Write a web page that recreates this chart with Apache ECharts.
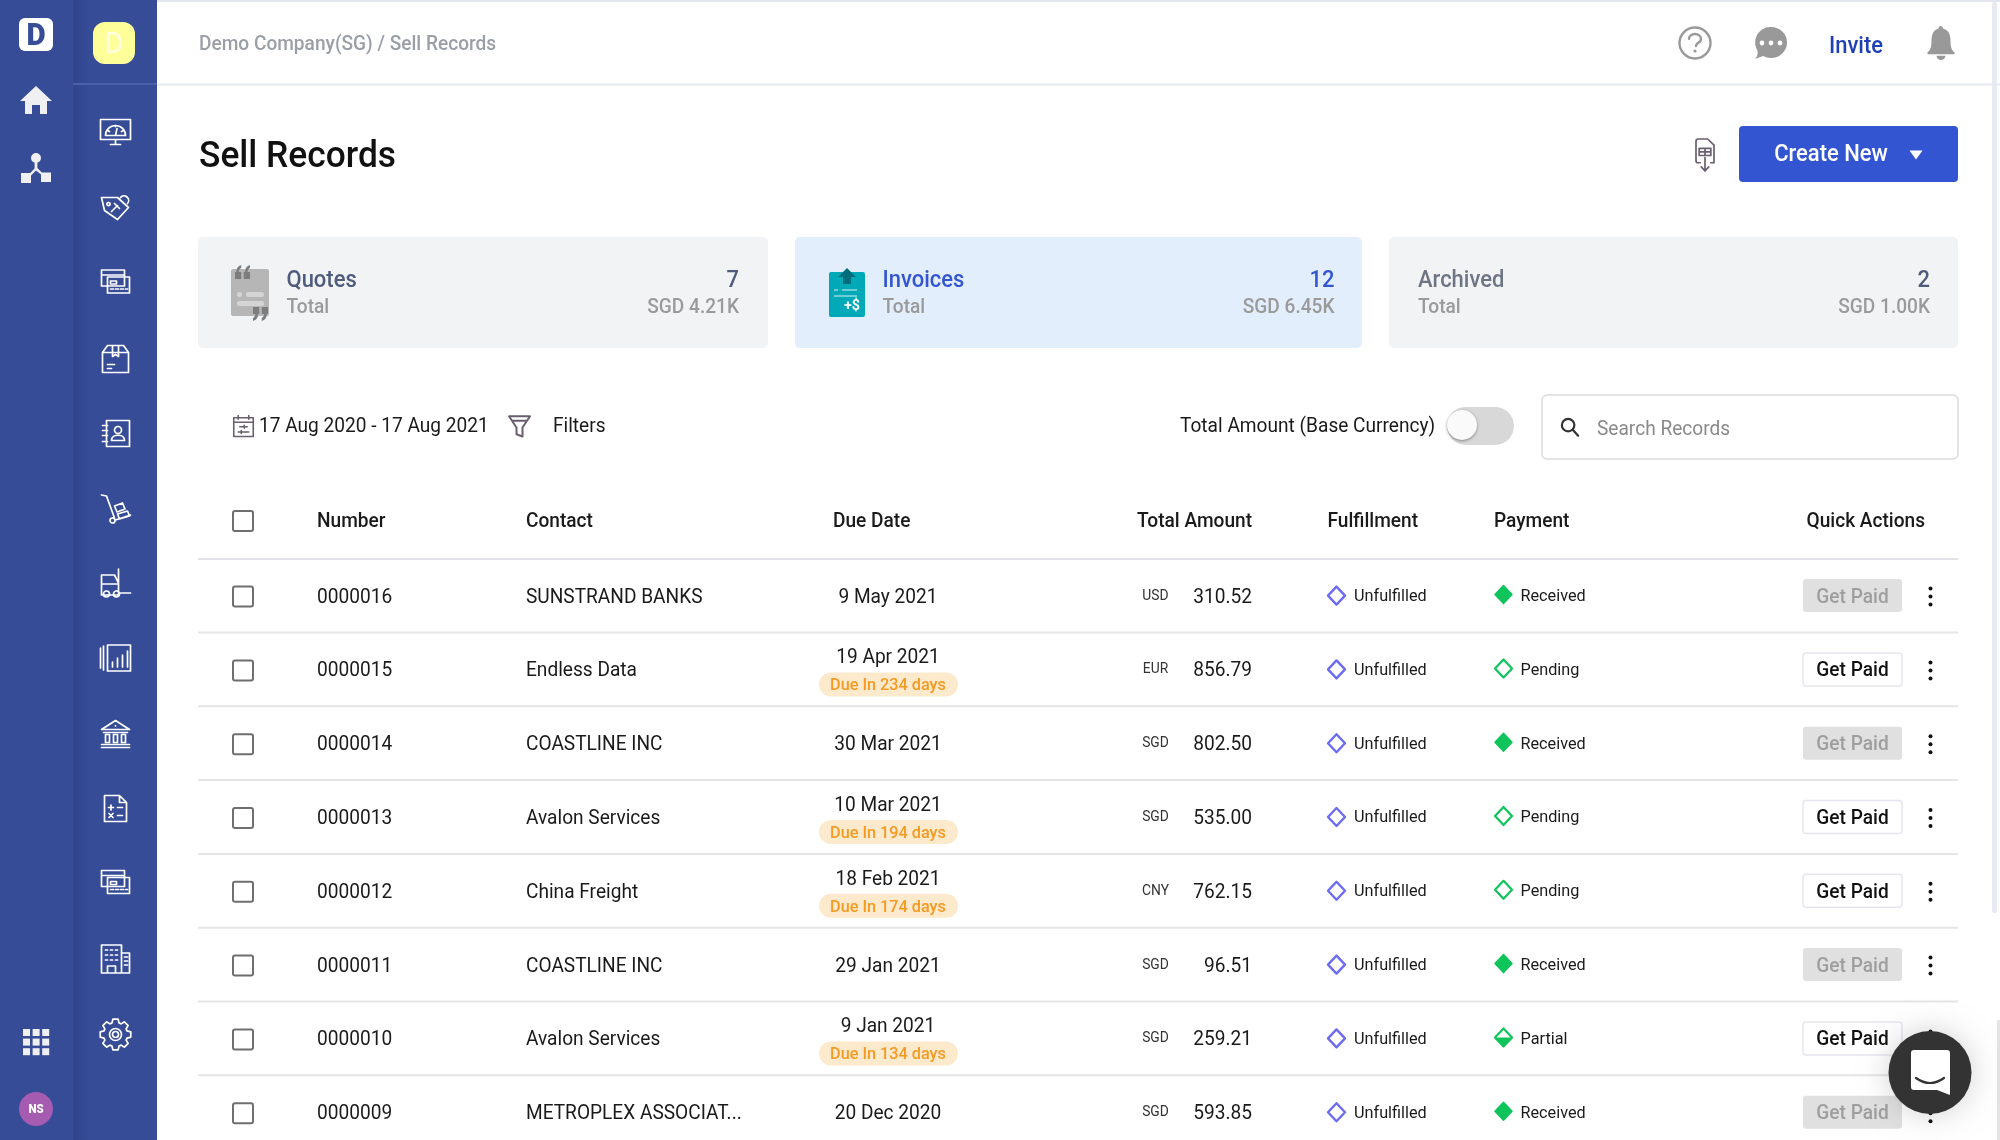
<!DOCTYPE html>
<html>
<head>
<meta charset="utf-8">
<title>Sell Records</title>
<style>
  html, body { margin: 0; padding: 0; background: #fff; }
  #main { width: 2000px; height: 1140px; }
</style>
<script src="https://cdn.jsdelivr.net/npm/echarts@6/dist/echarts.min.js"></script>
</head>
<body>
<div id="main"></div>
<script>
// table data
const numbers = ["0000016", "0000015", "0000014", "0000013", "0000012", "0000011", "0000010", "0000009"];
const contacts = ["SUNSTRAND BANKS", "Endless Data", "COASTLINE INC", "Avalon Services", "China Freight", "COASTLINE INC", "Avalon Services", "METROPLEX ASSOCIAT..."];
const dueDates = ["9 May 2021", "19 Apr 2021", "30 Mar 2021", "10 Mar 2021", "18 Feb 2021", "29 Jan 2021", "9 Jan 2021", "20 Dec 2020"];
const dueBadges = ["", "Due In 234 days", "", "Due In 194 days", "Due In 174 days", "", "Due In 134 days", ""];
const currencies = ["USD", "EUR", "SGD", "SGD", "CNY", "SGD", "SGD", "SGD"];
const amounts = [310.52, 856.79, 802.5, 535.0, 762.15, 96.51, 259.21, 593.85];
const fulfillment = ["Unfulfilled", "Unfulfilled", "Unfulfilled", "Unfulfilled", "Unfulfilled", "Unfulfilled", "Unfulfilled", "Unfulfilled"];
const payments = ["Received", "Pending", "Received", "Pending", "Pending", "Received", "Partial", "Received"];

// summary cards
const cardTitles = ["Quotes", "Invoices", "Archived"];
const cardCounts = [7, 12, 2];
const cardTotals = ["SGD 4.21K", "SGD 6.45K", "SGD 1.00K"];

// table header
const headerLabels = ["Number", "Contact", "Due Date", "Total Amount", "Fulfillment", "Payment", "Quick Actions"];

const FONT = "Roboto";
const BLUE = "#3455d1";
const RAIL = "#364c97";
const GREEN = "#10c45c";
const VIOLET = "#6c6cf2";
const INK = "#1a1a1a";
// the screenshot's text runs a little narrower than plain Roboto
const TEXT_SCALE = 0.955;

const graphics = [];
const iconPaths = [];
const overlay = [];

const add = (el) => {
  graphics.push(el);
};
const rect = (x, y, w, h, fill, r, extra) => {
  add(Object.assign({
    type: "rect",
    shape: { x: x, y: y, width: w, height: h, r: r || 0 },
    style: { fill: fill },
  }, extra || {}));
};
const textEl = (text, x, y, size, weight, fill, align) => ({
  type: "text",
  x: x,
  y: y + size * 0.1,
  scaleX: TEXT_SCALE,
  style: {
    text: text, x: 0, y: 0,
    font: weight + " " + size + "px " + FONT,
    fill: fill,
    align: align || "left", verticalAlign: "middle",
    textAlign: align || "left", textVerticalAlign: "middle",
  },
});
const label = (text, x, y, size, weight, fill, align) => {
  add(Object.assign(textEl(text, x, y, size, weight, fill, align), { z: 1 }));
};
// the graphic component has no path type, so paths go through custom series
const path = (d, x, y, w, h, style, target) => {
  (target || iconPaths).push({
    type: "path",
    shape: { pathData: d, x: x, y: y, width: w, height: h, layout: "cover" },
    style: style,
  });
};
// icons are drawn in a 32x32 box, the two moves keep that box when scaled
const lineIcon = (d, cx, cy, size, color, lineWidth) => {
  path("M0 0M32 32" + d, cx - size / 2, cy - size / 2, size, size, {
    fill: "none", stroke: color, lineWidth: lineWidth || 1.8, lineJoin: "round", lineCap: "round",
  });
};
const gearPath = () => {
  let d = "";
  for (let i = 0; i < 8; i++) {
    const a = (i * Math.PI) / 4;
    const pt = (r, off) => {
      const x = 16 + r * Math.cos(a + off);
      const y = 16 + r * Math.sin(a + off);
      return x.toFixed(2) + " " + y.toFixed(2);
    };
    d += (i === 0 ? "M" : "L") + pt(12, -0.3) + "L" + pt(15.5, -0.17) + "L" + pt(15.5, 0.17) + "L" + pt(12, 0.3);
  }
  return d + "zM16 10a6 6 0 1 0 .01 0zM16 13a3 3 0 1 0 .01 0z";
};

// sidebar
rect(0, 0, 157, 1140, RAIL);
add({
  type: "rect",
  shape: { x: 73, y: 0, width: 16, height: 1140 },
  style: {
    fill: new echarts.graphic.LinearGradient(0, 0, 1, 0, [
      { offset: 0, color: "#2f4489" },
      { offset: 1, color: RAIL },
    ]),
  },
});
rect(73, 83, 84, 2, "#4a60a8");
rect(19, 18, 34, 33, "#ffffff", 6);
label("D", 36, 34, 31, 900, RAIL, "center");
rect(93, 22, 42, 42, "#ffff99", 12);
label("D", 114, 42, 30, 400, "#ffffe6", "center");

path("M16 0L32 15h-5v13h-7v-9h-8v9H5V15H0z", 20, 86, 32, 28, { fill: "#f0f0f2" });
path("M15 0a5 5 0 1 1 -.01 0zM13.6 9h2.8v6l4.4 4.5h9.2v9.5h-10v-7.6L15 17.6l-5 4.8V30H0v-10h9.2l4.4-4.5z", 21, 153, 30, 30, { fill: "#f0f0f2" });
for (let r = 0; r < 3; r++) {
  for (let c = 0; c < 3; c++) {
    rect(23 + c * 9.6, 1029 + r * 9.6, 7, 7, "#f0f0f2");
  }
}
add({ type: "circle", shape: { cx: 36, cy: 1109, r: 17 }, style: { fill: "#a45bb0" } });
label("NS", 36, 1108.5, 12, 900, "#ffffff", "center");

const navIcons = [
  "M1 4h30v20H1zM11 29h10M16 24v5M6 20a10 10 0 0 1 20 0zM16 20l1.5-7M8 15l2 1M24 15l-2 1M16 10v1",
  "M2 7h16l11 10-11 12L5 20zM9 12a1.6 1.6 0 1 0 .01 0M21 7a4.5 4.5 0 1 1 7 6M12 21l6-6M15 13l5 5",
  "M2 4h23v16H2zM2 9h23M8 11h22v16H8zM11 15h6v3h-6zM11 23h3M16 23h3M21 23h3M26 23h2",
  "M3 10L8 3h16l5 7v20H3zM3 10h26M13 3v11l3-2 3 2V3M8 22h7M8 26h4",
  "M7 3h23v26H7zM3 8h5M3 13h5M3 18h5M3 24h5M18.5 9a3.5 3.5 0 1 0 .01 0M12 23c0-7 13-7 13 0z",
  "M2 2l5 1 8 22M13 25a2.5 2.5 0 1 0 .01 0M16 27l15-5M15 13l8-3 2.5 6-8 3zM18 21l10-3 2 5-10 3z",
  "M2 8h13l4 8v12H2zM2 17h17M19 2v26M19 26h12M7 24a3 3 0 1 0 .01 0M17 24a3 3 0 1 0 .01 0",
  "M8 3h23v26H8zM1 6v20M4 4v24M13 25v-5M18 25v-9M23 25v-12M28 25v-16",
  "M16 3L2 12h28zM4 15h24M6 17h4v8H6zM14 17h4v8h-4zM22 17h4v8h-4zM2 27h28M2 30h28M16 8v.5",
  "M5 3h15l7 7v19H5zM20 3v7h7M9 15h5M11.5 12.5v5M18 15h5M9.5 21l4 4M13.5 21l-4 4M18 23h5",
  "M2 4h23v16H2zM2 9h23M8 11h22v16H8zM11 15h6v3h-6zM11 23h3M16 23h3M21 23h3M26 23h2",
  "M2 2h20v28H2zM22 10h8v20h-8zM6 7h2M11 7h2M16 7h2M6 12h2M11 12h2M16 12h2M6 17h2M11 17h2M16 17h2M8 30v-7h8v7M25 14h3M25 18h3M25 22h3",
  gearPath(),
];
const navY = [131.5, 206.5, 282, 358.5, 433.5, 509, 583, 658, 733.5, 808.5, 882.5, 959, 1034.5];
navIcons.forEach((d, i) => lineIcon(d, 115.5, navY[i], 32, "#ffffff", 1.7));

// top bar
rect(157, 0, 1843, 2, "#e4e6ee");
rect(157, 83.5, 1843, 2, "#e8eaf2");
rect(1992, 2, 5, 911, "#e8eaf1", 2, { z: 1 });
rect(1997, 1020, 3, 120, "#e4e4e4", 0, { z: 1 });

label("Demo Company(SG) / Sell Records", 199, 43, 20, 500, "#9a9ea6");
add({ type: "circle", z: 1, shape: { cx: 1695, cy: 43, r: 15.5 }, style: { fill: "none", stroke: "#999999", lineWidth: 2.4 } });
path("M0 6a6 6 0 1 1 9.5 4.8C7.5 12.2 7 13 7 15", 1689, 34, 12, 12, { fill: "none", stroke: "#999999", lineWidth: 2.4, lineCap: "round" });
add({ type: "circle", z: 1, shape: { cx: 1695, cy: 51, r: 1.6 }, style: { fill: "#999999" } });
path("M16 0a16 15 0 1 1 -8 28L0 31c2-2 3-4 2.5-8A15 15 0 0 1 16 0z", 1755, 27, 32, 32, { fill: "#999999" });
[1762, 1771, 1780].forEach((x) => {
  add({ type: "circle", z: 5, shape: { cx: x, cy: 43, r: 2.4 }, style: { fill: "#ffffff" } });
});
label("Invite", 1856, 44.5, 23, 500, "#1e3fb5", "center");
path("M13 0a2.5 2.5 0 0 1 2.5 2.5C21 4 23 8 23 14c0 6 1 9 4 11v2H0v-2c3-2 4-5 4-11 0-6 2-10 7-11.5A2.5 2.5 0 0 1 13 0zM9 28.5h9a4.5 4 0 0 1-9 0z", 1927.5, 26, 27, 34, { fill: "#999999" });

// title row
label("Sell Records", 199, 154, 37, 500, "#111111");
path("M3 1h9l6 6v17h-3M5 24H3a2 2 0 0 1-2-2V3a2 2 0 0 1 2-2M4 10h11v7H4zM4 13.5h11M9.5 10v7M9.5 19v13M6 28l3.5 4 3.5-4", 1696, 139, 18, 32, {
  fill: "none", stroke: "#6a5f6e", lineWidth: 1.7, lineJoin: "round", lineCap: "round",
});
rect(1739, 126, 219, 56, BLUE, 4);
label("Create New", 1831, 153, 23, 500, "#ffffff", "center");
path("M0 0h13L6.5 9z", 1909.5, 150.5, 13, 9, { fill: "#ffffff" });

// cards
const cardX = [198, 795, 1389];
const cardW = [570, 567, 569];
const cardFill = ["#f2f3f5", "#e3eefd", "#f2f3f5"];
const cardTextX = [286.5, 882.5, 1418];
const cardRight = [739, 1334.5, 1930];
const cardInk = ["#4f5b7c", BLUE, "#6d7484"];
cardTitles.forEach((title, i) => {
  rect(cardX[i], 237, cardW[i], 111, cardFill[i], 5);
  label(title, cardTextX[i], 278.5, 23, 500, cardInk[i]);
  label("Total", cardTextX[i], 306, 20, 500, "#9a9a9a");
  label(String(cardCounts[i]), cardRight[i], 278.5, 23, 500, i === 1 ? BLUE : "#4f5b7c", "right");
  label(cardTotals[i], cardRight[i], 306, 20, 500, "#9a9a9a", "right");
});

// quotes icon
rect(231, 269, 38, 47, "#b6b6b6", 2, { z: 1 });
rect(237, 292, 5, 5, "#d4d4d4", 2, { z: 1 });
rect(246, 292, 18, 5, "#d4d4d4", 2, { z: 1 });
rect(237, 301, 27, 5, "#d4d4d4", 2, { z: 1 });
path("M1 5Q1 1 5 0v2Q3 3 3 5h2v5H0V5zM8 5Q8 1 12 0v2Q10 3 10 5h2v5H7V5z", 235, 265, 15, 14, { fill: "#7d7d7d" });
path("M4 5Q4 9 0 10V8Q2 7 2 5H0V0H5V5zM11 5Q11 9 7 10V8Q9 7 9 5H7V0H12V5z", 253, 307, 15, 14, { fill: "#7d7d7d" });

// invoices icon
rect(829, 272, 36, 45, "#00a9b8", 2, { z: 1 });
path("M9 0L18 9H13V16H5V9H0z", 838, 268, 18, 16, { fill: "#006d7c" });
rect(834, 289, 4, 2, "#6fcdd6", 0, { z: 1 });
rect(842, 289, 15, 2, "#6fcdd6", 0, { z: 1 });
rect(834, 295, 23, 2, "#6fcdd6", 0, { z: 1 });
label("+$", 852, 305, 15, 700, "#ffffff", "center");

// filter row
lineIcon("M3 5h26v25H3zM3 11h26M9 2v5M23 2v5M11 17h10M17 15v4M9 24h14M13 22v4", 243.5, 426, 24, "#6a5f6e", 1.6);
label("17 Aug 2020 - 17 Aug 2021", 259, 425, 20, 400, INK);
lineIcon("M2 3h28l-10 15v12l-8-3v-9zM6 9h20", 519.5, 426, 24, "#6a5f6e", 2);
label("Filters", 553, 425, 20, 400, INK);
label("Total Amount (Base Currency)", 1180, 425, 20, 400, INK);
rect(1447, 407, 67, 38, "#d8d8d8", 19);
add({
  type: "circle",
  z: 1,
  shape: { cx: 1462, cy: 425, r: 15 },
  style: { fill: "#fafafa", shadowBlur: 3, shadowColor: "rgba(0,0,0,0.4)", shadowOffsetY: 1 },
});
add({
  type: "rect",
  shape: { x: 1542, y: 395, width: 416, height: 64, r: 5 },
  style: { fill: "#ffffff", stroke: "#dcdcdf", lineWidth: 1.5 },
});
lineIcon("M13 3a10 10 0 1 0 .01 0zM20 20l9 10", 1570, 427, 20, "#333333", 2.2);
label("Search Records", 1597, 428, 20, 400, "#8a8a8a");

// table header
const headerX = [317, 526, 833, 1252, 1327.5, 1494, 1925];
const headerAlign = ["left", "left", "left", "right", "left", "left", "right"];
headerLabels.forEach((text, i) => {
  label(text, headerX[i], 520, 20, 500, INK, headerAlign[i]);
});
add({
  type: "rect",
  z: 1,
  shape: { x: 233, y: 511, width: 20, height: 20, r: 2 },
  style: { fill: "#ffffff", stroke: "#6f6f6f", lineWidth: 2 },
});
rect(198, 558, 1760, 2, "#e2e3e8");

// chat bubble sits over the last rows
overlay.push({
  type: "circle",
  shape: { cx: 1930, cy: 1072.5, r: 41.5 },
  style: { fill: "#333333", shadowBlur: 30, shadowColor: "rgba(0,0,0,0.18)" },
});
path("M3 0H36a3 3 0 0 1 3 3V45L26 40H3a3 3 0 0 1-3-3V3a3 3 0 0 1 3-3z", 1911, 1050, 39, 45, { fill: "#ffffff" }, overlay);
path("M0 0Q14 10 28 0", 1916, 1078, 28, 5, { fill: "none", stroke: "#333333", lineWidth: 2.2, lineCap: "round" }, overlay);

// one table row per category, positioned by the axes
const renderRow = (params, api) => {
  const i = api.value(0);
  const at = (x) => api.coord([x, i]);
  const cy = at(0)[1];
  const band = api.size([0, 1])[1];
  const kids = [];
  const text = (str, x, y, size, weight, fill, align) => {
    kids.push(textEl(str, at(x)[0], y, size, weight, fill, align));
  };
  const diamond = (cx, y, style) => {
    kids.push({
      type: "polygon",
      shape: { points: [[at(cx)[0], y - 9], [at(cx)[0] + 8.5, y], [at(cx)[0], y + 9], [at(cx)[0] - 8.5, y]] },
      style: Object.assign({ lineJoin: "round" }, style),
    });
  };

  kids.push({
    type: "rect",
    shape: { x: at(233)[0], y: cy - 9, width: 20, height: 20, r: 2 },
    style: { fill: "#ffffff", stroke: "#6f6f6f", lineWidth: 2 },
  });
  text(numbers[i], 317, cy, 20, 400, INK);
  text(contacts[i], 526, cy, 20, 400, INK);

  if (dueBadges[i]) {
    text(dueDates[i], 888, cy - 13, 20, 400, INK, "center");
    kids.push({
      type: "rect",
      shape: { x: at(819)[0], y: cy + 3, width: 139, height: 24, r: 12 },
      style: { fill: "#fde9cc" },
    });
    text(dueBadges[i], 888, cy + 15, 17, 500, "#f59a23", "center");
  } else {
    text(dueDates[i], 888, cy, 20, 400, INK, "center");
  }

  text(currencies[i], 1155.5, cy - 1, 14.5, 400, "#333333", "center");
  text(amounts[i].toFixed(2), 1252, cy, 20, 400, INK, "right");

  diamond(1336.5, cy, { fill: "none", stroke: VIOLET, lineWidth: 2.4 });
  text(fulfillment[i], 1354, cy - 0.5, 17, 400, INK);

  const pay = payments[i];
  if (pay === "Received") {
    diamond(1503.5, cy - 1, { fill: GREEN, stroke: GREEN, lineWidth: 1.5 });
  } else {
    diamond(1503.5, cy - 1, { fill: "none", stroke: GREEN, lineWidth: 2.2 });
    if (pay === "Partial") {
      const px = at(1503.5)[0];
      kids.push({
        type: "polygon",
        shape: { points: [[px - 8, cy - 1], [px + 8, cy - 1], [px, cy + 8]] },
        style: { fill: GREEN },
      });
    }
  }
  text(pay, 1520.5, cy - 0.5, 17, 400, INK);

  const paid = pay === "Received";
  kids.push({
    type: "rect",
    shape: { x: at(1803)[0], y: cy - 16.5, width: 99, height: 33, r: 3 },
    style: paid ? { fill: "#e0e0e0" } : { fill: "#ffffff", stroke: "#e6e6f0", lineWidth: 1.5 },
  });
  text("Get Paid", 1852.5, cy, 20, 500, paid ? "#9e9e9e" : "#111111", "center");
  [-7, 1, 9].forEach((off) => {
    kids.push({
      type: "circle",
      shape: { cx: at(1930.5)[0], cy: cy + off, r: 2 },
      style: { fill: "#111111" },
    });
  });

  kids.push({
    type: "rect",
    shape: { x: at(198)[0], y: cy + band / 2 - 1, width: 1760, height: 2 },
    style: { fill: "#e5e5e8" },
  });
  return { type: "group", children: kids };
};

const chart = echarts.init(document.getElementById("main"), null, { renderer: "canvas" });
chart.setOption({
  animation: false,
  backgroundColor: "#ffffff",
  textStyle: { fontFamily: FONT },
  grid: { left: 0, top: 558.7, width: 2000, height: 590.4, outerBoundsMode: "none" },
  xAxis: { type: "value", min: 0, max: 2000, show: false },
  yAxis: { type: "category", data: numbers, inverse: true, show: false },
  series: [
    {
      type: "custom",
      z: 1,
      silent: true,
      coordinateSystem: "none",
      renderItem: () => ({ type: "group", children: iconPaths }),
      data: [[0]],
    },
    {
      type: "custom",
      z: 2,
      clip: false,
      silent: true,
      renderItem: renderRow,
      encode: { y: 0 },
      data: numbers.map((n, i) => [i]),
    },
    {
      type: "custom",
      z: 6,
      silent: true,
      coordinateSystem: "none",
      renderItem: () => ({ type: "group", children: overlay }),
      data: [[0]],
    },
  ],
  graphic: { elements: graphics },
});
</script>
</body>
</html>
